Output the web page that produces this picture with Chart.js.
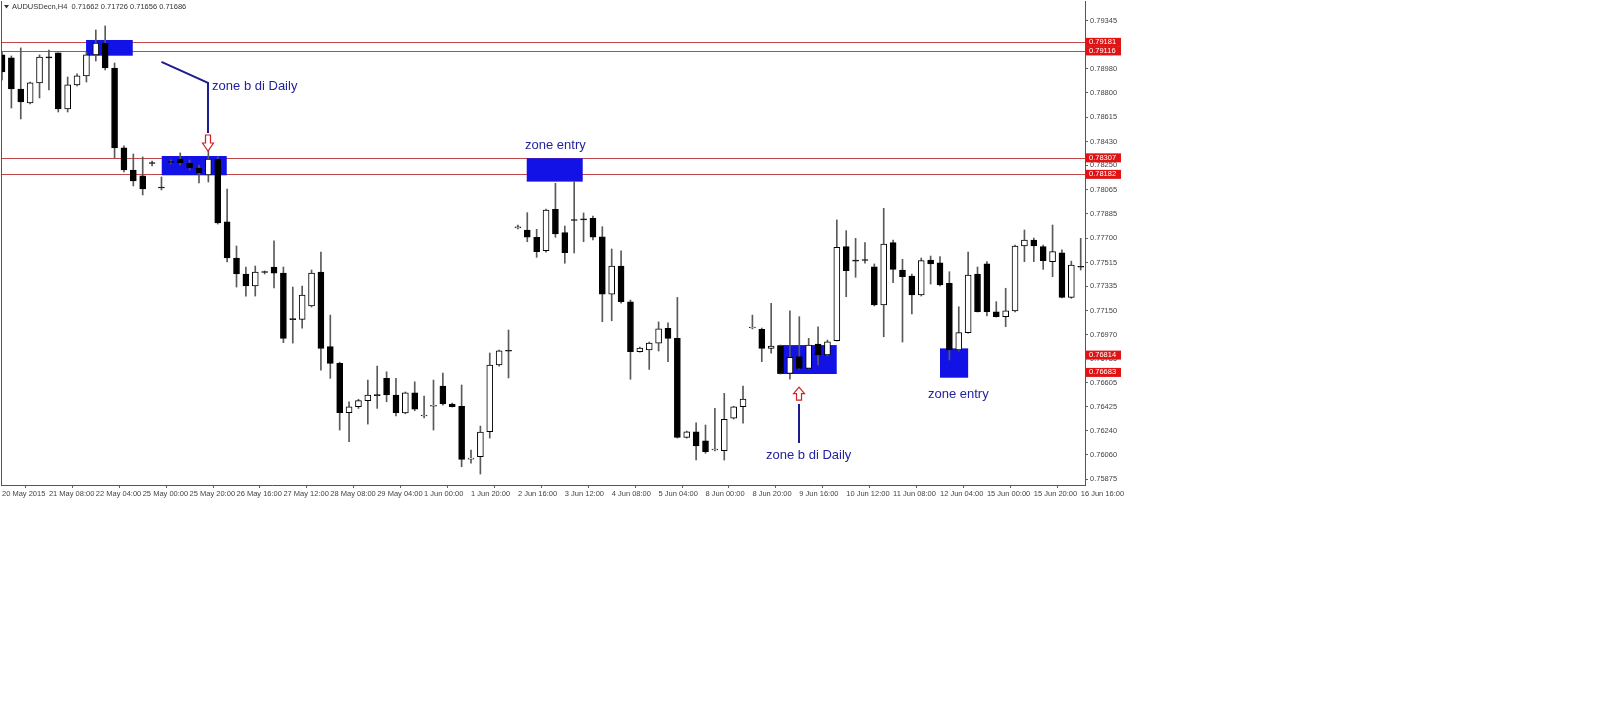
<!DOCTYPE html>
<html>
<head>
<meta charset="utf-8">
<script src="https://cdn.jsdelivr.net/npm/chart.js@4.4.1/dist/chart.umd.min.js"></script>
<style>
  html, body { margin: 0; padding: 0; background: #fff; }
  canvas { display: block; }
</style>
</head>
<body>
<canvas id="chartCanvas" width="1600" height="714"></canvas>
<script>
// AUDUSD H4, one entry per bar, bar 0 = 20 May 12:00
var opens = [
  0.79086, 0.79063, 0.78828, 0.78722, 0.78874, 0.79070, 0.79101, 0.78677, 0.78859, 0.78927,
  0.79086, 0.79176, 0.78987, 0.78382, 0.78215, 0.78170, 0.78268, 0.78086, 0.78276, 0.78298,
  0.78268, 0.78230, 0.78177, 0.78298, 0.77822, 0.77549, 0.77428, 0.77337, 0.77443, 0.77481,
  0.77435, 0.77087, 0.77085, 0.77186, 0.77443, 0.76878, 0.76752, 0.76378, 0.76423, 0.76469,
  0.76512, 0.76638, 0.76512, 0.76376, 0.76529, 0.76353, 0.76427, 0.76580, 0.76444, 0.76427,
  0.76027, 0.76045, 0.76234, 0.76739, 0.76847, 0.77776, 0.77761, 0.77706, 0.77604, 0.77918,
  0.77741, 0.77837, 0.77842, 0.77850, 0.77710, 0.77276, 0.77488, 0.77218, 0.76840, 0.76853,
  0.76905, 0.77017, 0.76941, 0.76192, 0.76234, 0.76166, 0.76096, 0.76090, 0.76336, 0.76423,
  0.77019, 0.77009, 0.76865, 0.76883, 0.76676, 0.76802, 0.76714, 0.76898, 0.76815, 0.76923,
  0.77635, 0.77529, 0.77534, 0.77483, 0.77193, 0.77665, 0.77458, 0.77413, 0.77269, 0.77534,
  0.77513, 0.77357, 0.76853, 0.76984, 0.77428, 0.77504, 0.77142, 0.77105, 0.77148, 0.77640,
  0.77685, 0.77635, 0.77521, 0.77589, 0.77251, 0.77483
];
var highs = [
  0.79108, 0.79078, 0.79139, 0.78881, 0.79086, 0.79123, 0.79101, 0.78919, 0.78942, 0.79108,
  0.79275, 0.79305, 0.79025, 0.78397, 0.78336, 0.78314, 0.78283, 0.78162, 0.78291, 0.78344,
  0.78291, 0.78253, 0.78367, 0.78314, 0.78071, 0.77640, 0.77481, 0.77488, 0.77451, 0.77678,
  0.77481, 0.77329, 0.77337, 0.77458, 0.77594, 0.77117, 0.76760, 0.76461, 0.76480, 0.76625,
  0.76731, 0.76688, 0.76638, 0.76535, 0.76612, 0.76504, 0.76625, 0.76678, 0.76451, 0.76588,
  0.76096, 0.76277, 0.76830, 0.76853, 0.77004, 0.77799, 0.77892, 0.77766, 0.77920, 0.78114,
  0.77791, 0.78127, 0.77890, 0.77867, 0.77786, 0.77617, 0.77604, 0.77231, 0.76875, 0.76913,
  0.77065, 0.77059, 0.77251, 0.76239, 0.76302, 0.76285, 0.76411, 0.76525, 0.76427, 0.76580,
  0.77117, 0.77019, 0.77206, 0.76890, 0.77150, 0.77105, 0.76941, 0.77029, 0.76928, 0.77837,
  0.77756, 0.77698, 0.77665, 0.77504, 0.77925, 0.77685, 0.77539, 0.77428, 0.77549, 0.77564,
  0.77559, 0.77445, 0.77180, 0.77594, 0.77481, 0.77521, 0.77218, 0.77320, 0.77647, 0.77761,
  0.77700, 0.77647, 0.77799, 0.77610, 0.77525, 0.77698
];
var lows = [
  0.78896, 0.78684, 0.78601, 0.78715, 0.78760, 0.78821, 0.78654, 0.78654, 0.78851, 0.78881,
  0.79040, 0.78972, 0.78306, 0.78200, 0.78094, 0.78026, 0.78245, 0.78064, 0.78261, 0.78253,
  0.78215, 0.78117, 0.78124, 0.77806, 0.77519, 0.77329, 0.77261, 0.77261, 0.77428, 0.77322,
  0.76908, 0.76905, 0.77017, 0.77178, 0.76701, 0.76638, 0.76247, 0.76158, 0.76410, 0.76292,
  0.76411, 0.76461, 0.76353, 0.76370, 0.76393, 0.76338, 0.76247, 0.76436, 0.76421, 0.75969,
  0.75997, 0.75914, 0.76186, 0.76731, 0.76641, 0.77769, 0.77672, 0.77554, 0.77594, 0.77706,
  0.77509, 0.77587, 0.77672, 0.77685, 0.77067, 0.77074, 0.77208, 0.76631, 0.76837, 0.76706,
  0.76845, 0.76764, 0.76186, 0.76186, 0.76020, 0.76071, 0.76088, 0.76020, 0.76330, 0.76298,
  0.77012, 0.76764, 0.76828, 0.76671, 0.76631, 0.76709, 0.76709, 0.76739, 0.76807, 0.76921,
  0.77256, 0.77403, 0.77509, 0.77186, 0.76953, 0.77362, 0.76913, 0.77125, 0.77261, 0.77352,
  0.77337, 0.76777, 0.76845, 0.76981, 0.77140, 0.77110, 0.77102, 0.77029, 0.77140, 0.77521,
  0.77521, 0.77463, 0.77407, 0.77246, 0.77244, 0.77458
];
var closes = [
  0.78957, 0.78828, 0.78730, 0.78874, 0.79070, 0.79063, 0.78677, 0.78859, 0.78927, 0.79086,
  0.79176, 0.78987, 0.78382, 0.78215, 0.78132, 0.78071, 0.78264, 0.78079, 0.78272, 0.78268,
  0.78230, 0.78192, 0.78298, 0.77814, 0.77549, 0.77428, 0.77337, 0.77443, 0.77439, 0.77435,
  0.76941, 0.77083, 0.77269, 0.77435, 0.76865, 0.76752, 0.76378, 0.76423, 0.76469, 0.76512,
  0.76508, 0.76512, 0.76378, 0.76529, 0.76404, 0.76357, 0.76432, 0.76444, 0.76423, 0.76025,
  0.76031, 0.76232, 0.76739, 0.76847, 0.76843, 0.77784, 0.77706, 0.77597, 0.77912, 0.77731,
  0.77589, 0.77833, 0.77838, 0.77706, 0.77276, 0.77488, 0.77218, 0.76840, 0.76868, 0.76905,
  0.77012, 0.76941, 0.76192, 0.76234, 0.76126, 0.76083, 0.76099, 0.76328, 0.76423, 0.76482,
  0.77023, 0.76865, 0.76883, 0.76676, 0.76797, 0.76714, 0.76890, 0.76815, 0.76915, 0.77630,
  0.77453, 0.77525, 0.77530, 0.77193, 0.77655, 0.77463, 0.77407, 0.77269, 0.77529, 0.77504,
  0.77345, 0.76853, 0.76984, 0.77420, 0.77142, 0.77142, 0.77105, 0.77150, 0.77640, 0.77685,
  0.77640, 0.77529, 0.77597, 0.77251, 0.77496, 0.77479
];

// time labels, one every 5 bars
var timeLabels = [
  '20 May 2015', '21 May 08:00', '22 May 04:00', '25 May 00:00', '25 May 20:00', '26 May 16:00',
  '27 May 12:00', '28 May 08:00', '29 May 04:00', '1 Jun 00:00', '1 Jun 20:00', '2 Jun 16:00',
  '3 Jun 12:00', '4 Jun 08:00', '5 Jun 04:00', '8 Jun 00:00', '8 Jun 20:00', '9 Jun 16:00',
  '10 Jun 12:00', '11 Jun 08:00', '12 Jun 04:00', '15 Jun 00:00', '15 Jun 20:00', '16 Jun 16:00'
];
var priceTicks = [
  0.79345, 0.79160, 0.78980, 0.78800, 0.78615, 0.78430, 0.78250, 0.78065, 0.77885, 0.77700,
  0.77515, 0.77335, 0.77150, 0.76970, 0.76785, 0.76605, 0.76425, 0.76240, 0.76060, 0.75875
];

// objects drawn on the chart: [barFrom, barTo, priceTop, priceBottom]
var zoneBoxes = [
  [8.96, 13.94, 0.79199, 0.79080],
  [17.03, 23.96, 0.78321, 0.78175],
  [55.94, 61.91, 0.78304, 0.78127],
  [82.66, 88.99, 0.76890, 0.76671],
  [100.0, 103.0, 0.76865, 0.76643]
];
var levelLines = [0.79181, 0.79116, 0.78307, 0.78182];
var levelTags = [0.79181, 0.79116, 0.78307, 0.78182, 0.76814, 0.76683];
var notes = [
  ['zone b di Daily', 22.4, 0.78851],
  ['zone entry', 55.76, 0.78404],
  ['zone b di Daily', 81.45, 0.76058],
  ['zone entry', 98.72, 0.76519]
];
var trendLines = [
  [[17.0, 0.79033], [21.96, 0.78874], [21.96, 0.78495]],
  [[84.97, 0.76444], [84.97, 0.76149]]
];
// [bar, tail price, tip price]
var arrows = [
  [21.96, 0.78480, 0.78359],
  [84.97, 0.76474, 0.76572]
];

var FONT = 'Liberation Sans';

function buildData() {
  var bodies = [], wicks = [], fills = [];
  for (var i = 0; i < opens.length; i++) {
    bodies.push({ x: i, y: [opens[i], closes[i]] });
    wicks.push({ x: i, y: [lows[i], highs[i]] });
    fills.push(closes[i] >= opens[i] ? '#ffffff' : '#000000');
  }
  return { bodies: bodies, wicks: wicks, fills: fills };
}

var drawings = {
  id: 'drawings',
  beforeDatasetsDraw: function (chart) {
    var ctx = chart.ctx, a = chart.chartArea, x = chart.scales.x, y = chart.scales.y;
    ctx.save();
    ctx.beginPath();
    ctx.rect(a.left, a.top, a.right - a.left, a.bottom - a.top);
    ctx.clip();
    ctx.strokeStyle = '#c04848';
    ctx.lineWidth = 1;
    levelLines.forEach(function (p) {
      var py = Math.round(y.getPixelForValue(p)) + 0.5;
      ctx.beginPath();
      ctx.moveTo(a.left, py);
      ctx.lineTo(a.right, py);
      ctx.stroke();
    });
    ctx.fillStyle = '#1212e6';
    zoneBoxes.forEach(function (b) {
      var x0 = x.getPixelForValue(b[0]), x1 = x.getPixelForValue(b[1]);
      var y0 = y.getPixelForValue(b[2]), y1 = y.getPixelForValue(b[3]);
      ctx.fillRect(x0, y0, x1 - x0, y1 - y0);
    });
    ctx.restore();
  },
  afterDatasetsDraw: function (chart) {
    var ctx = chart.ctx, x = chart.scales.x, y = chart.scales.y;
    ctx.save();
    // trend lines
    ctx.strokeStyle = '#1c1c8c';
    ctx.lineWidth = 2;
    trendLines.forEach(function (pts) {
      ctx.beginPath();
      pts.forEach(function (p, k) {
        var px = x.getPixelForValue(p[0]), py = y.getPixelForValue(p[1]);
        if (k === 0) ctx.moveTo(px, py); else ctx.lineTo(px, py);
      });
      ctx.stroke();
    });
    // hollow arrows
    ctx.strokeStyle = '#d42020';
    ctx.fillStyle = '#ffffff';
    ctx.lineWidth = 1.2;
    arrows.forEach(function (ar) {
      var cx = x.getPixelForValue(ar[0]);
      var tail = y.getPixelForValue(ar[1]), tip = y.getPixelForValue(ar[2]);
      var dir = tip > tail ? 1 : -1;
      var len = Math.abs(tip - tail), neck = tail + dir * len * 0.5;
      ctx.beginPath();
      ctx.moveTo(cx - 2.5, tail);
      ctx.lineTo(cx + 2.5, tail);
      ctx.lineTo(cx + 2.5, neck);
      ctx.lineTo(cx + 5.5, neck);
      ctx.lineTo(cx, tip);
      ctx.lineTo(cx - 5.5, neck);
      ctx.lineTo(cx - 2.5, neck);
      ctx.closePath();
      ctx.fill();
      ctx.stroke();
    });
    // text notes
    ctx.fillStyle = '#23239c';
    ctx.font = '13px ' + FONT;
    ctx.textAlign = 'left';
    ctx.textBaseline = 'middle';
    notes.forEach(function (n) {
      ctx.fillText(n[0], x.getPixelForValue(n[1]), y.getPixelForValue(n[2]));
    });
    ctx.restore();
  },
  afterDraw: function (chart) {
    var ctx = chart.ctx, a = chart.chartArea, y = chart.scales.y;
    ctx.save();
    // left frame
    ctx.strokeStyle = '#555';
    ctx.lineWidth = 1;
    ctx.beginPath();
    ctx.moveTo(a.left + 0.5, a.top);
    ctx.lineTo(a.left + 0.5, a.bottom);
    ctx.stroke();
    // red price tags on the axis
    ctx.font = '7.5px ' + FONT;
    ctx.textBaseline = 'middle';
    ctx.textAlign = 'left';
    levelTags.forEach(function (p) {
      var py = y.getPixelForValue(p);
      ctx.fillStyle = '#e01414';
      ctx.fillRect(a.right + 1, py - 4.5, 35, 9);
      ctx.fillStyle = '#ffffff';
      ctx.fillText(p.toFixed(5), a.right + 4, py);
    });
    // header
    ctx.fillStyle = '#333';
    ctx.beginPath();
    ctx.moveTo(a.left + 3, 5);
    ctx.lineTo(a.left + 8, 5);
    ctx.lineTo(a.left + 5.5, 8.5);
    ctx.closePath();
    ctx.fill();
    ctx.fillText('AUDUSDecn,H4  0.71662 0.71726 0.71656 0.71686', a.left + 11, 7);
    ctx.restore();
  }
};

var d = buildData();
var ctx = document.getElementById('chartCanvas').getContext('2d');

var candleChart = new Chart(ctx, {
  type: 'bar',
  data: {
    datasets: [{
      label: 'body',
      data: d.bodies,
      backgroundColor: d.fills,
      borderColor: '#000000',
      borderWidth: 1,
      borderSkipped: false,
      barThickness: 6,
      minBarLength: 1,
      grouped: false,
      order: 1
    }, {
      label: 'wick',
      data: d.wicks,
      backgroundColor: '#5a5a5a',
      borderWidth: 0,
      barThickness: 1,
      minBarLength: 1,
      grouped: false,
      order: 2
    }]
  },
  options: {
    responsive: false,
    maintainAspectRatio: false,
    devicePixelRatio: 1,
    animation: false,
    events: [],
    layout: { padding: { left: 1, right: 477, top: 1, bottom: 214 } },
    plugins: { legend: { display: false }, tooltip: { enabled: false } },
    scales: {
      x: {
        type: 'linear',
        offset: false,
        min: -0.107,
        max: 115.458,
        afterFit: function (s) {
          s.height = 15;
          s.paddingLeft = 0;
          s.paddingRight = 0;
        },
        afterBuildTicks: function (s) {
          s.ticks = timeLabels.map(function (t, k) { return { value: k * 5 }; });
        },
        grid: { drawOnChartArea: false, tickLength: 3, color: '#666' },
        border: { color: '#555' },
        ticks: {
          autoSkip: false,
          maxRotation: 0,
          align: 'start',
          padding: 1,
          color: '#444',
          font: { family: FONT, size: 7.5 },
          callback: function (v) { return timeLabels[Math.round(v / 5)]; }
        }
      },
      y: {
        position: 'right',
        min: 0.75831,
        max: 0.79494,
        afterFit: function (s) {
          s.width = 38;
          s.paddingTop = 0;
          s.paddingBottom = 0;
        },
        afterBuildTicks: function (s) {
          s.ticks = priceTicks.map(function (v) { return { value: v }; });
        },
        grid: { drawOnChartArea: false, tickLength: 3, color: '#666' },
        border: { color: '#555' },
        ticks: {
          padding: 2,
          color: '#444',
          font: { family: FONT, size: 7.5 },
          callback: function (v) { return Number(v).toFixed(5); }
        }
      }
    }
  },
  plugins: [drawings]
});
</script>
</body>
</html>
